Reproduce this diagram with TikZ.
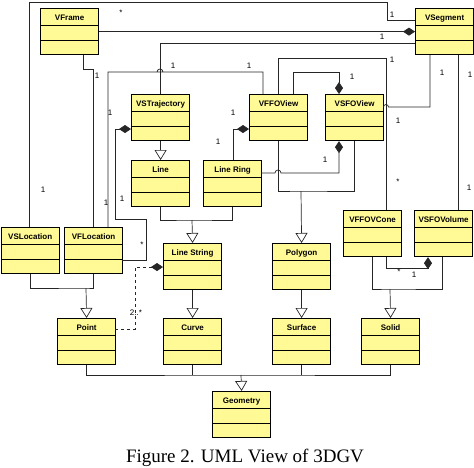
\documentclass[tikz,border=0pt]{standalone}
\usepackage{fontspec}
\setmainfont{Liberation Serif}
\newfontfamily\classfont{Liberation Sans}
\usetikzlibrary{arrows.meta}
\usetikzlibrary{calc}
\definecolor{classyellow}{RGB}{255,250,150}
\tikzset{
  umlclass/.style={draw, fill=classyellow, line width=1.2pt, anchor=north west, inner sep=0pt,
    minimum width=58pt, minimum height=46pt, text height=11.8pt, text depth=34.2pt,
    font=\classfont\fontsize{8}{9}\selectfont\bfseries,
    path picture={
      \draw[line width=1.2pt] ([yshift=-17pt]path picture bounding box.north west) -- ([yshift=-17pt]path picture bounding box.north east);
      \draw[line width=1.2pt] ([yshift=-32pt]path picture bounding box.north west) -- ([yshift=-32pt]path picture bounding box.north east);}},
  assoc/.style={line width=0.7pt, black!85},
  gen/.style={assoc, -{Triangle[open, length=10pt, width=12pt, fill=white]}},
  comp/.style={assoc, {Diamond[length=12pt, width=8pt]}-},
  mult/.style={font=\classfont\fontsize{8}{8}\selectfont, inner sep=0pt}
}
\begin{document}
\begin{tikzpicture}[x=1pt, y=-1pt]
        \useasboundingbox (0,0) rectangle (474,467);
        \node[umlclass] (vframe) at (40,8) {VFrame};
        \node[umlclass] (vsegment) at (415,8) {VSegment};
        \node[umlclass] (vstraj) at (131,94) {VSTrajectory};
        \node[umlclass] (vffoview) at (249,94) {VFFOView};
        \node[umlclass] (vsfoview) at (325,94) {VSFOView};
        \node[umlclass] (line) at (131,160) {Line};
        \node[umlclass] (linering) at (203,160) {Line Ring};
        \node[umlclass] (vslocation) at (0.6,227) {VSLocation};
        \node[umlclass] (vflocation) at (64,227) {VFLocation};
        \node[umlclass] (linestring) at (163,243) {Line String};
        \node[umlclass] (polygon) at (272,243) {Polygon};
        \node[umlclass] (vffovcone) at (343,210) {VFFOVCone};
        \node[umlclass] (vsfovolume) at (414,210) {VSFOVolume};
        \node[umlclass] (point) at (57,318) {Point};
        \node[umlclass] (curve) at (163,318) {Curve};
        \node[umlclass] (surface) at (272,318) {Surface};
        \node[umlclass] (solid) at (361,318) {Solid};
        \node[umlclass] (geometry) at (212,391) {Geometry};
        \coordinate (lsjoin) at (192,220);
        \coordinate (polyjoin) at (301,191);
        \coordinate (solidjoin) at (390,289);
        \coordinate (pointjoin) at (86,288);
        \coordinate (geomjoin) at (241,375);
        \draw[assoc] ($(vslocation.north west)+(29,0)$) |- (387,2) |- ($(vsegment.north west)+(0,12)$);
        \draw[comp] (vsegment.west) -- (vframe.east);
        \draw[assoc] (vstraj.north) |- ($(vsegment.north west)+(0,35)$);
        \draw[assoc] ($(vflocation.north west)+(44,0)$) |- (163,72) arc[start angle=0, end angle=-180, radius=3] -- (157,72) -| ($(vffoview.north west)+(14,0)$);
        \draw[assoc] ($(vframe.south west)+(43,0)$) -- ++(0,14) -| ($(vflocation.north west)+(29,0)$);
        \draw[comp] ($(vstraj.north west)+(0,35)$) -| (115,219) -| (146,260) -- ($(vflocation.north west)+(58,33)$);
        \draw[gen] (vstraj.south) -- (line.north);
        \draw[comp] ($(vffoview.north west)+(0,35)$) -| ($(linering.north west)+(30,0)$);
        \draw[assoc] (line.south) |- (lsjoin) -| (linering.south);
        \draw[gen] (lsjoin) -- (linestring.north);
        \draw[comp, dashed] ($(linestring.north west)+(0,24)$) -| (135,329) -- ($(point.north west)+(58,11)$);
        \draw[gen] (linestring.south) -- (curve.north);
        \draw[assoc] (vffoview.south) |- (polyjoin) -| (vsfoview.south);
        \draw[gen] (polyjoin) -- (polygon.north);
        \draw[comp] ($(vsfoview.south west)+(14,0)$) |- (281,173) arc[start angle=0, end angle=-180, radius=3] -- ($(linering.north west)+(58,13)$);
        \draw[comp] ($(vsfoview.north west)+(14,0)$) -- ++(0,-22) -| ($(vffoview.north west)+(44,0)$);
        \draw[assoc] ($(vffoview.north west)+(29,0)$) -- ++(0,-36) -| ($(vffovcone.north west)+(43,0)$);
        \draw[assoc] ($(vsegment.south west)+(15,0)$) |- (388.5,107) arc[start angle=0, end angle=-180, radius=2.5] -- ($(vsfoview.north west)+(58,13)$);
        \draw[assoc] ($(vsegment.south west)+(43,0)$) -- ($(vsfovolume.north west)+(44,0)$);
        \draw[comp] ($(vsfovolume.south west)+(14,0)$) -- ++(0,11) -| ($(vffovcone.south west)+(43,0)$);
        \draw[assoc] ($(vffovcone.south west)+(29,0)$) |- (solidjoin) -| ($(vsfovolume.south west)+(28,0)$);
        \draw[gen] (solidjoin) -- (solid.north);
        \draw[assoc] (vslocation.south) |- (pointjoin) -| ($(vflocation.south west)+(29,0)$);
        \draw[gen] (pointjoin) -- (point.north);
        \draw[gen] (polygon.south) -- (surface.north);
        \draw[assoc] (point.south) |- (geomjoin) -| (solid.south);
        \draw[assoc] (curve.south) -- (curve.south |- geomjoin);
        \draw[assoc] (surface.south) -- (surface.south |- geomjoin);
        \draw[gen] (geomjoin) -- (geometry.north);
        \foreach \x/\y/\t [count=\i] in {121/13/*, 392/15/1, 382/37/1, 97/76/1, 173/66/1, 249/66/1, 392/60/1, 352/77/1, 442/73/1, 470/75/1, 110/113/1, 233/113/1, 218/142/1, 398/121/1, 325/160/1, 43/190/1, 106/203/1, 122/199/1, 142/245/*, 398/182/*, 469/188/1, 399/272/*, 414/275/1, 136/313/2..*}
            \node[mult] (mult\i) at (\x,\y) {\t};
        \node[font=\fontsize{19}{22}\selectfont, anchor=base] (caption) at (245,462) {Figure 2. UML View of 3DGV};
    \end{tikzpicture}
\end{document}
